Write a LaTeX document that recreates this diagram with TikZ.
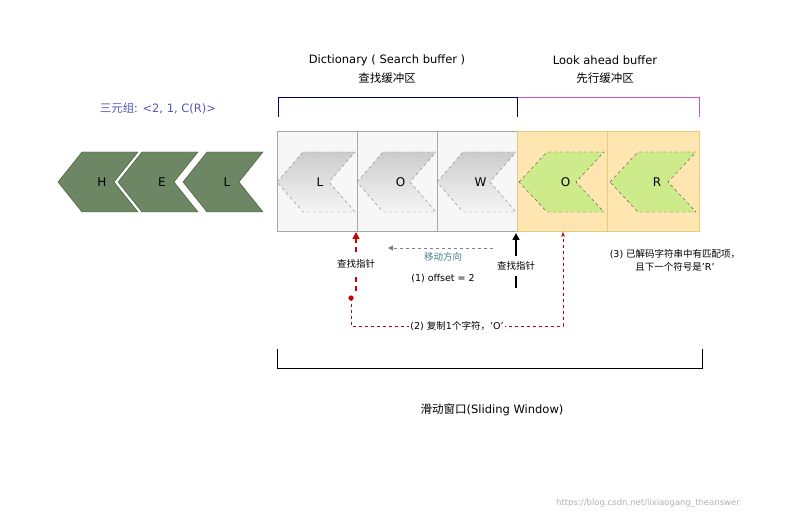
\documentclass[tikz,border=0pt]{standalone}
\usepackage{fontspec}
\setmainfont{DejaVu Sans}
\newfontfamily\cjk{Noto Sans CJK SC}
\usetikzlibrary{arrows.meta}
\definecolor{grn}{HTML}{6D8764}
\definecolor{grnd}{HTML}{3A5431}
\definecolor{ylw}{HTML}{FFE6B0}
\definecolor{ylwb}{HTML}{E8C780}
\definecolor{lgr}{HTML}{CDEB8B}
\definecolor{tri}{HTML}{5555BB}
\definecolor{pnk}{HTML}{CC55CC}
\newcommand{\sq}{\char"0027}
\tikzset{
 txt/.style={font=\fontsize{11.5}{15}\selectfont, inner sep=1pt},
 sm/.style={font=\fontsize{9.5}{13}\selectfont, inner sep=1pt},
 cell/.style={draw=gray!70, fill=gray!6},
 ycell/.style={draw=ylwb, fill=ylw},
}
\newcommand{\chev}[5]{% x0 x1 d style label
 \draw[#4] (#1,182) -- (#1+#3,152) -- (#2,152) -- (#2-#3,182) -- (#2,212) -- (#1+#3,212) -- cycle;
 \node[font=\fontsize{12}{15}\selectfont] at ({(#1+#2)/2+4},182) {#5};}
\begin{document}
\begin{tikzpicture}[x=1pt,y=-1pt]
\useasboundingbox (0,0) rectangle (797,521);
% cells
\draw[cell] (277,131) rectangle (357,231);
\draw[cell] (357,131) rectangle (437,231);
\draw[cell] (437,131) rectangle (517,231);
\draw[ycell] (517,131) rectangle (607,231);
\draw[ycell] (607,131) rectangle (699,231);
% chevrons
\chev{58}{138}{24}{fill=grn,draw=grnd}{H}
\chev{118}{198}{24}{fill=grn,draw=grnd}{E}
\chev{183}{263}{24}{fill=grn,draw=grnd}{L}
\chev{277}{355}{26}{draw=gray,dashed,top color=gray!40,bottom color=gray!8}{L}
\chev{357}{436}{26}{draw=gray,dashed,top color=gray!40,bottom color=gray!8}{O}
\chev{437}{516}{26}{draw=gray,dashed,top color=gray!40,bottom color=gray!8}{W}
\chev{519}{604}{28}{draw=black!70,dashed,fill=lgr}{O}
\chev{610}{696}{28}{draw=black!70,dashed,fill=lgr}{R}
% headings
\node[txt] (d1) at (387,60) {Dictionary ( Search buffer )};
\node[txt] (d2) at (387,78) {\cjk 查找缓冲区};
\node[txt] (l1) at (605,60) {Look ahead buffer};
\node[txt] (l2) at (605,78) {\cjk 先行缓冲区};
\node[txt,text=tri] (tr) at (158,108) {{\cjk 三元组:} <2, 1, C(R)>};
% brackets
\draw[draw=blue!40!black,line width=0.8pt] (278,117) -- (278,97) -- (517,97) -- (517,117);
\draw[draw=pnk,line width=0.8pt] (518,97) -- (699,97) -- (699,117);
\draw (277,349) -- (277,368) -- (702,368) -- (702,349);
\node[txt] (sw) at (492,410) {{\cjk 滑动窗口}(Sliding Window)};
% pointers
\node[sm] (p1) at (356,264) {\cjk 查找指针};
\node[sm] (p2) at (516,266) {\cjk 查找指针};
\coordinate (dot) at (351,298);
\fill[red!80!black] (dot) circle (2.6);
\draw[red!80!black,line width=1.5pt,dash pattern=on 5pt off 4pt,-{Triangle[length=7pt,width=7pt]}] (356,252) -- (356,232);
\draw[red!80!black,line width=1.5pt] (356,277) -- (356,282) (356,286) -- (356,291);
\draw[black,line width=1.6pt,-{Triangle[length=7pt,width=7pt]}] (516,256) -- (516,233);
\draw[black,line width=1.6pt] (516,276) -- (516,288);
\draw[gray,dashed,-{Triangle[length=5pt,width=5pt]}] (493,248) -- (388,248);
\node[sm,text=teal!50!gray] (mv) at (443,257) {\cjk 移动方向};
\node[sm] (of) at (443,279) {(1) offset = 2};
\draw[red!80!black,dashed,-{Stealth[length=5pt]}] (dot) -- (351,326) -- (563,326) -- (563,232);
\node[sm,fill=white] (cp) at (457,326) {(2) {\cjk 复制}1{\cjk 个字符，}\sq O\sq};
\node[sm,align=center] (t3) at (675,260) {(3) {\cjk 已解码字符串中有匹配项，}\\{\cjk 且下一个符号是}\sq R\sq};
\node[font=\fontsize{8.5}{10}\selectfont,text=gray!60] (wm) at (648,503) {https://blog.csdn.net/lixiaogang\_theanswer};
\end{tikzpicture}
\end{document}
